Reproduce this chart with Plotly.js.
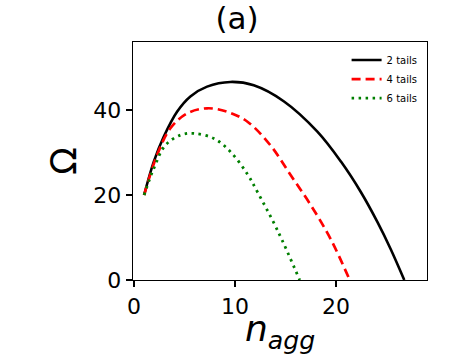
<!DOCTYPE html>
<html><head><meta charset="utf-8">
<script src="https://cdn.plot.ly/plotly-3.0.1.min.js"></script>
<style>html,body{margin:0;padding:0;background:#fff}</style>
</head><body>
<div id="chart" style="width:474px;height:355px"></div>
<script>
const x2 = [1, 1.95, 2.94, 4.26, 5.58, 7.23, 9.54, 11.85, 14.85, 18.15, 20.5, 22.45, 24.1, 25.4, 26.75];
const y2 = [20, 27.8, 33.7, 39.6, 43.2, 45.5, 46.6, 45.8, 42.0, 34.9, 27.8, 20.7, 13.6, 7.3, 0];
const x4 = [1, 2.28, 3.6, 5.25, 7.23, 9.2, 11.2, 13.5, 15.5, 17.5, 19.45, 21.35];
const y4 = [20, 29.4, 35.7, 39.2, 40.4, 39.6, 37.3, 31.7, 24.7, 17.6, 9.7, 0];
const x6 = [1, 1.95, 3.1, 4.6, 5.9, 7.9, 9.54, 11.2, 12.2, 14.2, 16.4];
const y6 = [20, 26.2, 31.7, 34.1, 34.5, 33.3, 30.2, 25.0, 20.8, 11.7, 0];
const names = ["2 tails", "4 tails", "6 tails"];
const xTicks = [0, 10, 20];
const yTicks = [0, 20, 40];

const traces = [
  {x: x2, y: y2, name: names[0], mode: 'lines', line: {color: '#000000', width: 2.6, shape: 'spline', smoothing: 1, dash: 'solid'}},
  {x: x4, y: y4, name: names[1], mode: 'lines', line: {color: '#ff0000', width: 2.7, shape: 'spline', smoothing: 1, dash: '9px,5px'}},
  {x: x6, y: y6, name: names[2], mode: 'lines', line: {color: '#007f00', width: 2.8, shape: 'spline', smoothing: 1, dash: '2.5px,4.5px'}}
];
const fnt = 'DejaVu Sans, sans-serif';
const layout = {
  width: 474, height: 355,
  margin: {l: 133, r: 47, t: 42, b: 75},
  paper_bgcolor: '#fff', plot_bgcolor: '#fff',
  font: {family: fnt, color: '#000'},
  title: {text: '(a)', font: {family: fnt, size: 31, color: '#000'}, xref: 'container', x: 0.5, xanchor: 'center', yref: 'container', y: 0.948, yanchor: 'middle'},
  showlegend: true,
  legend: {x: 0.985, y: 0.985, xanchor: 'right', yanchor: 'top', bgcolor: 'rgba(255,255,255,0)', borderwidth: 0, font: {family: fnt, size: 10, color: '#000'}, tracegroupgap: 0, itemwidth: 30},
  xaxis: {
    range: [-0.1, 29], tickvals: xTicks, ticktext: xTicks.map(String),
    showgrid: false, zeroline: false, showline: true, mirror: true, linecolor: '#000', linewidth: 1.3,
    ticks: 'outside', ticklen: 6, tickwidth: 1.3, tickcolor: '#000',
    tickfont: {family: fnt, size: 22, color: '#000'},
    title: {text: '<i>n</i><sub><i>agg</i></sub>', font: {family: fnt, size: 36, color: '#000'}, standoff: 4}
  },
  yaxis: {
    range: [0, 56], tickvals: yTicks, ticktext: yTicks.map(String),
    showgrid: false, zeroline: false, showline: true, mirror: true, linecolor: '#000', linewidth: 1.3,
    ticks: 'outside', ticklen: 6, tickwidth: 1.3, tickcolor: '#000',
    tickfont: {family: fnt, size: 22, color: '#000'},
    title: {text: 'Ω', font: {family: fnt, size: 36, color: '#000'}, standoff: 5}
  }
};
Plotly.newPlot('chart', traces, layout, {displayModeBar: false, staticPlot: true});
</script>
</body></html>
